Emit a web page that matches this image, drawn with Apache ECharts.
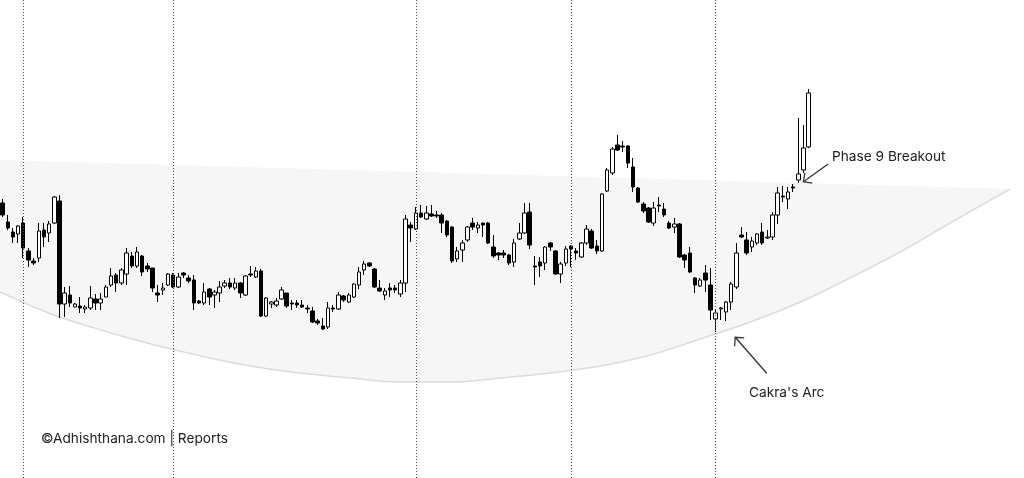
<!DOCTYPE html>
<html><head><meta charset="utf-8">
<script src="https://cdn.jsdelivr.net/npm/echarts@6/dist/echarts.min.js"></script>
<style>html,body{margin:0;padding:0;background:#fff;overflow:hidden}#c{width:1024px;height:478px}</style>
</head><body><div id="c"></div>
<script>
// ---- data (price units) ----
const categories = [];
for (let i = 0; i < 198; i++) categories.push('D' + (i + 1));

const open = [275,256,246,244,255,227,217,220,248,245,
255,277,174,183,171,172,169,170,179,175,
181,193,203,195,204,222,212,222,212,210,
185,188,193,203,191,205,200,198,177,175,
189,183,185,192,195,190,195,183,204,201,
207,162,174,173,179,185,175,175,173,170,
167,157,152,151,170,169,182,176,181,193,
208,215,209,190,183,190,190,184,195,253,
249,265,259,264,263,263,257,251,219,228,
238,255,250,255,255,231,225,225,223,216,
239,245,266,212,216,215,235,227,204,215,
232,227,221,235,247,232,227,287,305,333,
332,332,311,290,274,270,255,273,269,255,
251,254,223,225,200,192,205,193,159,169,
166,176,191,243,238,231,235,246,240,241,
263,282,279,291,298,308,331];
const close = [263,250,241,252,230,218,215,247,241,254,
281,174,185,175,174,170,171,180,175,179,
191,202,195,208,225,212,226,206,209,190,
183,190,204,191,201,203,197,175,175,186,
181,186,191,195,191,195,185,202,203,207,
162,180,176,177,188,172,174,173,171,169,
156,155,149,170,169,183,178,183,194,206,
214,212,191,187,187,188,188,195,259,250,
265,261,265,262,262,255,243,217,227,235,
251,251,253,253,235,222,223,223,215,235,
245,265,233,211,212,231,231,204,214,229,
229,225,235,249,230,227,284,308,329,328,
331,315,291,276,267,256,270,272,263,250,
254,221,218,206,193,198,198,168,165,170,
176,194,225,241,225,237,244,235,241,263,
285,281,286,290,304,330,385];
const low = [261,248,235,235,220,211,213,216,231,236,
254,160,161,171,171,165,165,168,168,168,
181,191,186,193,193,210,210,202,206,186,
176,183,192,190,190,200,195,168,174,173,
173,170,176,190,189,188,180,182,201,200,
161,161,170,171,178,170,168,170,170,165,
155,153,148,149,166,168,176,175,180,189,
203,211,190,186,178,181,185,181,186,236,
248,260,258,261,260,245,241,215,216,216,
236,248,245,241,234,220,218,220,213,211,
238,244,229,193,201,208,227,203,195,212,
211,218,220,233,229,224,226,286,303,327,
326,310,286,275,265,255,252,266,261,249,
245,220,210,205,185,191,186,158,146,158,
157,168,189,240,223,226,233,233,239,238,
254,276,269,286,295,305,330];
const high = [279,263,250,253,261,230,220,255,255,257,
282,283,191,192,175,181,173,192,184,185,
193,210,205,210,230,226,231,223,215,210,
193,195,205,205,205,206,203,203,178,195,
190,188,197,198,200,200,196,203,212,211,
209,181,177,180,191,185,178,178,178,173,
171,159,160,176,173,186,183,185,195,211,
217,216,210,198,190,195,193,198,263,256,
271,273,272,273,267,265,258,252,231,238,
252,260,256,255,256,243,226,228,224,239,
255,275,275,222,221,232,236,228,216,232,
233,230,236,253,249,238,285,310,331,343,
337,333,320,291,276,271,276,281,275,257,
260,255,224,231,201,200,213,210,168,171,
177,196,235,251,246,241,245,255,248,266,
291,292,291,294,360,353,389];

// phase boundaries (candle indices)
const phaseLines = [4, 33, 80, 110, 138];

// Cakra's Arc band: [candle index, price]
const arcUpper = [[-0.5, 318], [195, 289]];
const arcLower = [[-0.5,186],[9.4,164],[19,148],[28.7,134],[38.4,122],[48,112],[57.7,105],
  [67.4,100],[77,96],[86.7,96],[96.4,100],[106,105],[115.7,112],[125.4,123],[135,139],
  [144.7,156],[154.4,176],[164,200],[173.7,226],[183.4,255],[195,289]];

// annotation arrows: [tailIndex, tailPrice, tipIndex, tipPrice]
const arrows = [[159.8, 314, 155.0, 296.3], [147.9, 104.7, 141.8, 140.7]];

const candleData = open.map((o, i) => [o, close[i], low[i], high[i]]);

const chart = echarts.init(document.getElementById('c'), null, {renderer: 'canvas'});
chart.setOption({
  animation: false,
  backgroundColor: '#ffffff',
  grid: {left: -1, right: 1, top: 0, bottom: 0},
  xAxis: [
    {type: 'category', data: categories, show: false, boundaryGap: true},
    {type: 'value', min: -0.5, max: 197.5, show: false}
  ],
  yAxis: {type: 'value', min: 0, max: 478, show: false},
  series: [
    {type: 'line', xAxisIndex: 1, data: arcUpper, symbol: 'none', silent: true,
     lineStyle: {width: 0, opacity: 0}, areaStyle: {color: '#f6f6f6', opacity: 1, origin: 'start'}, z: 1},
    {type: 'line', xAxisIndex: 1, data: arcLower, symbol: 'none', silent: true, smooth: 0.4,
     lineStyle: {color: '#dcdcdc', width: 1.5}, areaStyle: {color: '#ffffff', opacity: 1, origin: 'start'}, z: 2},
    {type: 'candlestick', data: candleData, barWidth: 4, silent: true, z: 5,
     itemStyle: {color: '#ffffff', color0: '#000000', borderColor: '#000000', borderColor0: '#000000', borderColorDoji: '#000000', borderWidth: 1},
     markLine: {silent: true, symbol: 'none', label: {show: false}, z: 6,
       lineStyle: {color: '#4a4a4a', type: [1, 2], width: 1},
       emphasis: {disabled: true},
       data: phaseLines.map(i => ({xAxis: categories[i]}))}
    },
    {type: 'custom', xAxisIndex: 1, yAxisIndex: 0, data: arrows, silent: true, z: 7,
     encode: {x: [0, 2], y: [1, 3]},
     renderItem: function (params, api) {
       const p1 = api.coord([api.value(0), api.value(1)]);
       const p2 = api.coord([api.value(2), api.value(3)]);
       const ang = Math.atan2(p1[1] - p2[1], p1[0] - p2[0]);
       const L = 9, a = Math.PI / 4;
       const h1 = [p2[0] + L * Math.cos(ang + a), p2[1] + L * Math.sin(ang + a)];
       const h2 = [p2[0] + L * Math.cos(ang - a), p2[1] + L * Math.sin(ang - a)];
       return {type: 'group', children: [
         {type: 'line', shape: {x1: p1[0], y1: p1[1], x2: p2[0], y2: p2[1]}, style: {stroke: '#333', lineWidth: 1.3}},
         {type: 'polyline', shape: {points: [h1, p2, h2]}, style: {stroke: '#333', lineWidth: 1.3, fill: null}}
       ]};
     }}
  ],
  graphic: [
    {type: 'text', left: 832, top: 150, z: 100, style: {text: 'Phase 9 Breakout', fontSize: 13.7, fontFamily: 'Inter', fill: '#222'}},
    {type: 'text', left: 749, top: 386, z: 100, style: {text: "Cakra's Arc", fontSize: 13.7, fontFamily: 'Inter', fill: '#222'}},
    {type: 'text', left: 41, top: 432, z: 100, style: {text: '©Adhishthana.com | Reports', fontSize: 13.7, fontFamily: 'Inter', fill: '#222'}}
  ]
});
</script></body></html>
